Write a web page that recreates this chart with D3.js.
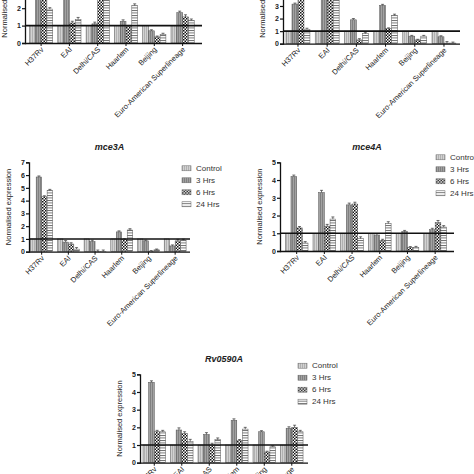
<!DOCTYPE html>
<html lang="en">
<head>
<meta charset="UTF-8">
<title>Normalised expression</title>
<script src="https://d3js.org/d3.v7.min.js"></script>
<style>
    body { margin: 0; padding: 0; overflow: hidden; background: #fff; }
    svg { font-family: "Liberation Sans", Arial, sans-serif; }
    .tick text { font-size: 7px; font-weight: bold; fill: #222; }
    .xlab { font-size: 7.5px; fill: #222; }
    .ylab { font-size: 7.5px; fill: #222; }
    .title { font-size: 9px; font-weight: bold; font-style: italic; fill: #222; }
    .legend text { font-size: 8px; fill: #333; }
</style>
</head>
<body>
<script>
    // categories and series
    const categories = ["H37Rv", "EAI", "Delhi/CAS", "Haarlem", "Beijing", "Euro-American Superlineage"];
    const series = ["Control", "3 Hrs", "6 Hrs", "24 Hrs"];

    // values per panel (control is always 1)
    const control = [1, 1, 1, 1, 1, 1];

    const topLeft3h  = [3.6, 3.4, 1.1, 1.25, 0.7, 1.75];
    const topLeft6h  = [3.0, 1.15, 3.3, 0.95, 0.35, 1.5];
    const topLeft24h = [1.95, 1.35, 2.9, 2.15, 0.5, 1.3];

    const topRight3h  = [3.15, 5.0, 1.9, 3.05, 0.6, 0.55];
    const topRight6h  = [4.5, 4.6, 0.3, 1.2, 0.3, 0.05];
    const topRight24h = [1.15, 4.2, 0.8, 2.25, 0.6, 0.05];

    const mce3A3h  = [5.85, 0.75, 0.8, 1.55, 0.85, 0.45];
    const mce3A6h  = [4.3, 0.6, 0.03, 0.95, 0.04, 0.85];
    const mce3A24h = [4.8, 0.2, 0.03, 1.7, 0.15, 0.9];

    const mce4A3h  = [4.2, 3.3, 2.6, 0.9, 1.1, 1.2];
    const mce4A6h  = [1.3, 1.4, 2.65, 0.6, 0.2, 1.6];
    const mce4A24h = [0.45, 1.8, 0.7, 1.55, 0.2, 1.35];

    const rv3h  = [4.55, 1.85, 1.6, 2.4, 1.75, 1.95];
    const rv6h  = [1.75, 1.65, 1.0, 1.25, 0.6, 2.0];
    const rv24h = [1.75, 1.2, 1.3, 1.9, 0.9, 1.75];

    // error bars (same for all panels, small SEM)
    const err3h  = [0.08, 0.12, 0.1, 0.08, 0.06, 0.08];
    const err6h  = [0.08, 0.1, 0.1, 0.06, 0.05, 0.12];
    const err24h = [0.08, 0.12, 0.1, 0.1, 0.06, 0.08];

    const panels = [
        { title: null, vals: [control, topLeft3h, topLeft6h, topLeft24h], ymax: 5,
          ax: 25, y0: 43, h: 87, start: 29.5, pitch: 28.3, lineEnd: 202, legend: null },
        { title: null, vals: [control, topRight3h, topRight6h, topRight24h], ymax: 7,
          ax: 283, y0: 43.7, h: 88, start: 286, pitch: 29.2, lineEnd: 460, legend: null },
        { title: "mce3A", vals: [control, mce3A3h, mce3A6h, mce3A24h], ymax: 7,
          ax: 29, y0: 251.7, h: 89.4, start: 30.7, pitch: 26.7, lineEnd: 190, legend: [182, 168.3] },
        { title: "mce4A", vals: [control, mce4A3h, mce4A6h, mce4A24h], ymax: 5,
          ax: 280, y0: 251, h: 88.7, start: 285.3, pitch: 27.7, lineEnd: 454, legend: [436, 157.3] },
        { title: "Rv0590A", vals: [control, rv3h, rv6h, rv24h], ymax: 5,
          ax: 140, y0: 462.7, h: 88.4, start: 143, pitch: 27.5, lineEnd: 308, legend: [298, 365.7] }
    ];

    const svg = d3.select("body").append("svg")
        .attr("width", 474)
        .attr("height", 474);

    // bar fill patterns
    const defs = svg.append("defs");
    const pCtrl = defs.append("pattern").attr("id", "p0").attr("patternUnits", "userSpaceOnUse")
        .attr("width", 2).attr("height", 2);
    pCtrl.append("rect").attr("width", 2).attr("height", 2).attr("fill", "#d2d2d2");
    pCtrl.append("rect").attr("width", 0.8).attr("height", 2).attr("fill", "#a9a9a9");

    const p3 = defs.append("pattern").attr("id", "p1").attr("patternUnits", "userSpaceOnUse")
        .attr("width", 2).attr("height", 2);
    p3.append("rect").attr("width", 2).attr("height", 2).attr("fill", "#a2a2a2");
    p3.append("rect").attr("width", 0.8).attr("height", 2).attr("fill", "#777");

    const p6 = defs.append("pattern").attr("id", "p2").attr("patternUnits", "userSpaceOnUse")
        .attr("width", 3).attr("height", 3);
    p6.append("rect").attr("width", 3).attr("height", 3).attr("fill", "#fff");
    p6.append("rect").attr("width", 1.5).attr("height", 1.5).attr("fill", "#111");
    p6.append("rect").attr("x", 1.5).attr("y", 1.5).attr("width", 1.5).attr("height", 1.5).attr("fill", "#111");

    const p24 = defs.append("pattern").attr("id", "p3").attr("patternUnits", "userSpaceOnUse")
        .attr("width", 2.5).attr("height", 2.5);
    p24.append("rect").attr("width", 2.5).attr("height", 2.5).attr("fill", "#fff");
    p24.append("rect").attr("width", 2.5).attr("height", 0.9).attr("fill", "#666");

    const errs = [null, err3h, err6h, err24h];

    panels.forEach(p => {
        const g = svg.append("g");

        const y = d3.scaleLinear().domain([0, p.ymax]).range([p.y0, p.y0 - p.h]);
        const x = d3.scaleBand().domain(categories)
            .range([p.start, p.start + p.pitch * (categories.length - 0.18)])
            .paddingInner(0.18).paddingOuter(0);
        const xs = d3.scaleBand().domain(series).range([0, x.bandwidth()]);

        // bars
        categories.forEach((c, i) => {
            series.forEach((s, j) => {
                const v = p.vals[j][i];
                const bx = x(c) + xs(s);
                g.append("rect")
                    .attr("x", bx)
                    .attr("y", y(v))
                    .attr("width", xs.bandwidth())
                    .attr("height", p.y0 - y(v))
                    .attr("fill", `url(#p${j})`)
                    .attr("stroke", "#555")
                    .attr("stroke-width", 0.5);
                if (errs[j]) {
                    const e = errs[j][i];
                    const cx = bx + xs.bandwidth() / 2;
                    g.append("line").attr("x1", cx).attr("x2", cx)
                        .attr("y1", y(v)).attr("y2", y(v + e))
                        .attr("stroke", "#333").attr("stroke-width", 0.7);
                    g.append("line").attr("x1", cx - 1.5).attr("x2", cx + 1.5)
                        .attr("y1", y(v + e)).attr("y2", y(v + e))
                        .attr("stroke", "#333").attr("stroke-width", 0.7);
                }
            });
        });

        // y axis
        const yAxis = g.append("g")
            .attr("transform", `translate(${p.ax},0)`)
            .call(d3.axisLeft(y).ticks(p.ymax).tickSize(3).tickPadding(1).tickFormat(d3.format("d")));
        yAxis.select(".domain").attr("stroke", "#111").attr("stroke-width", 1.3);
        yAxis.selectAll(".tick line").attr("stroke", "#111").attr("stroke-width", 1.2);

        // x axis
        const xAxis = g.append("g")
            .attr("transform", `translate(0,${p.y0})`)
            .call(d3.axisBottom(x).tickSize(3).tickFormat(""));
        xAxis.select(".domain").attr("d", `M${p.ax},0.5H${p.lineEnd}`)
            .attr("stroke", "#111").attr("stroke-width", 1.3);
        xAxis.selectAll(".tick line").attr("stroke", "#111").attr("stroke-width", 1);

        categories.forEach(c => {
            g.append("text")
                .attr("class", "xlab")
                .attr("text-anchor", "end")
                .attr("transform", `translate(${x(c) + x.bandwidth() / 2 + 3},${p.y0 + 7}) rotate(-45)`)
                .text(c);
        });

        // reference line at 1
        g.append("line")
            .attr("x1", p.ax).attr("x2", p.lineEnd)
            .attr("y1", y(1)).attr("y2", y(1))
            .attr("stroke", "#111").attr("stroke-width", 1.6);

        // y label
        g.append("text")
            .attr("class", "ylab")
            .attr("text-anchor", "middle")
            .attr("dominant-baseline", "central")
            .attr("transform", `translate(${p.ax - 21},${p.y0 - p.h / 2}) rotate(-90)`)
            .text("Normalised expression");

        if (p.title) {
            g.append("text")
                .attr("class", "title")
                .attr("text-anchor", "middle")
                .attr("x", (p.ax + p.lineEnd) / 2)
                .attr("y", p.y0 - p.h - 12)
                .text(p.title);
        }

        if (p.legend) {
            const lg = g.append("g").attr("class", "legend")
                .attr("transform", `translate(${p.legend[0]},${p.legend[1]})`);
            series.forEach((s, j) => {
                lg.append("rect")
                    .attr("x", 0).attr("y", j * 12 - 2.5)
                    .attr("width", 9).attr("height", 5)
                    .attr("fill", `url(#p${j})`)
                    .attr("stroke", "#666").attr("stroke-width", 0.5);
                lg.append("text")
                    .attr("x", 14).attr("y", j * 12)
                    .attr("dominant-baseline", "central")
                    .text(s);
            });
        }
    });
</script>
</body>
</html>
